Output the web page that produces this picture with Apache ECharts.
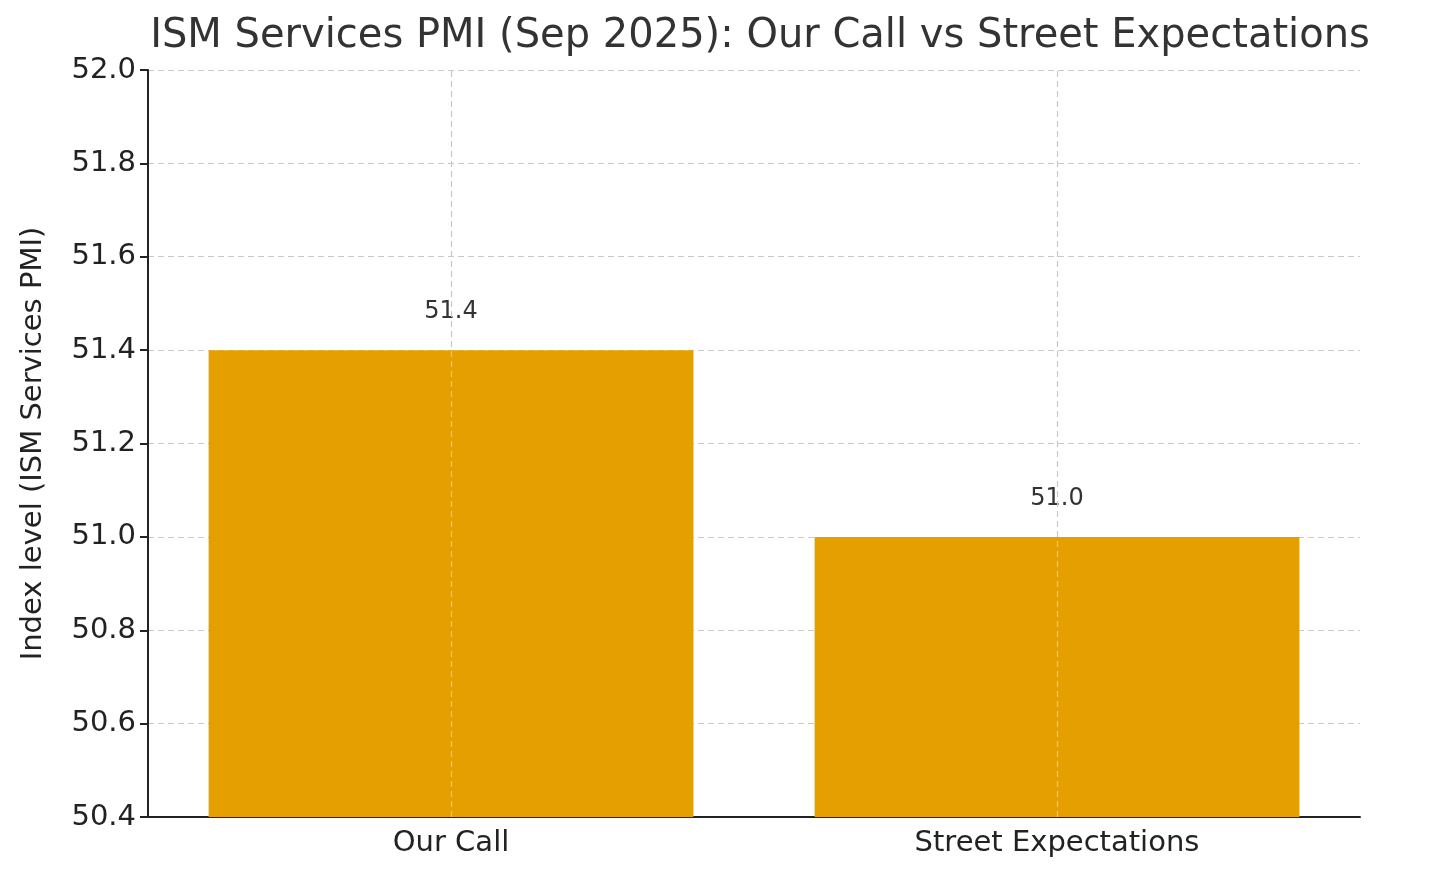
<!DOCTYPE html>
<html lang="en">
<head>
    <meta charset="UTF-8">
    <title>ISM Services PMI</title>
    <style>
        html, body { margin: 0; padding: 0; background: #fff; }
        #main { width: 1452px; height: 880px; }
    </style>
    <script src="https://cdn.jsdelivr.net/npm/echarts@6/dist/echarts.min.js"></script>
</head>
<body>
<div id="main"></div>
<script>
    var categories = ['Our Call', 'Street Expectations'];
    var values = [51.4, 51.0];
    var yTicks = { min: 50.4, max: 52.0, step: 0.2 };

    var font = 'DejaVu Sans';
    var gridLine = { color: '#c8c8c8', type: [6, 4], width: 1.2 };

    var myChart = echarts.init(document.getElementById('main'));
    var option = {
        animation: false,
        textStyle: { fontFamily: font },
        title: {
            text: 'ISM Services PMI (Sep 2025): Our Call vs Street Expectations',
            left: 755, top: 12, textAlign: 'center',
            textStyle: { fontFamily: font, fontSize: 40, fontWeight: 'normal', color: '#333' }
        },
        grid: { left: 148, right: 92, top: 70, bottom: 63 },
        xAxis: {
            type: 'category',
            data: categories,
            axisLine: { lineStyle: { color: '#222', width: 2 } },
            axisTick: { alignWithLabel: true, length: 8, lineStyle: { color: '#222', width: 2 } },
            axisLabel: { fontSize: 29, color: '#222', margin: 12 },
            splitLine: { show: false }
        },
        yAxis: {
            type: 'value',
            min: yTicks.min, max: yTicks.max, interval: yTicks.step,
            name: 'Index level (ISM Services PMI)',
            nameLocation: 'middle', nameGap: 100,
            nameTextStyle: { fontSize: 29, color: '#222' },
            axisLine: { show: true, lineStyle: { color: '#222', width: 2 } },
            axisTick: { show: true, length: 8, lineStyle: { color: '#222', width: 2 } },
            axisLabel: { fontSize: 29, color: '#222', margin: 12, formatter: function (v) { return v.toFixed(1); } },
            splitLine: { lineStyle: gridLine }
        },
        series: [
            {
                type: 'bar',
                data: values,
                barWidth: '80%',
                z: 2,
                itemStyle: { color: '#E5A000' },
                label: {
                    show: true, position: 'top', distance: 26,
                    fontSize: 24, color: '#333',
                    formatter: function (p) { return p.value.toFixed(1); }
                }
            },
            {
                type: 'line',
                data: [],
                z: 1,
                markLine: {
                    silent: true, symbol: 'none', label: { show: false },
                    lineStyle: gridLine,
                    data: categories.map(function (c) { return { xAxis: c }; })
                }
            }
        ]
    };
    myChart.setOption(option);
</script>
</body>
</html>
